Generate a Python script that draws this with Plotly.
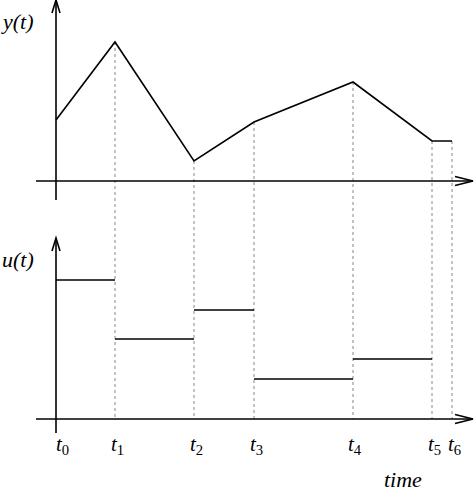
import plotly.graph_objects as go

# ---- data (time units, arbitrary) ----
t_points = [0, 5.9, 13.8, 19.8, 29.7, 37.6, 39.6]
t_labels = ["t0", "t1", "t2", "t3", "t4", "t5", "t6"]
y_values = [6.1, 13.9, 2.0, 5.9, 9.9, 4.0, 4.0]
u_values = [13.9, 8.0, 10.9, 4.0, 6.0]   # constant on [t_k, t_{k+1}]

W, H = 474, 489
FONT = "Liberation Serif, Times New Roman, serif"
GAP = 23.8          # bottom-panel axis level in top-panel units

fig = go.Figure()

# dotted guide lines from curve points down to bottom axis
gx, gy = [], []
for tk, yk in zip(t_points[1:], y_values[1:]):
    gx += [tk, tk, None]
    gy += [yk, -GAP, None]
fig.add_trace(go.Scatter(x=gx, y=gy, mode="lines", yaxis="y",
                         line=dict(color="#888888", width=1, dash="dot"),
                         hoverinfo="skip", showlegend=False))

# y(t) piecewise linear
fig.add_trace(go.Scatter(x=t_points, y=y_values, mode="lines", yaxis="y",
                         line=dict(color="black", width=1.6),
                         showlegend=False))

# u(t) piecewise constant
ux, uy = [], []
for k, uk in enumerate(u_values):
    ux += [t_points[k], t_points[k + 1], None]
    uy += [uk, uk, None]
fig.add_trace(go.Scatter(x=ux, y=uy, mode="lines", yaxis="y2",
                         line=dict(color="black", width=1.6),
                         showlegend=False))

axis_line = dict(color="black", width=1.6)
shapes = []
x_left, x_right = -2.0, 41.7
# top panel axes
shapes.append(dict(type="line", xref="x", yref="y", x0=x_left, x1=x_right, y0=0, y1=0, line=axis_line))
shapes.append(dict(type="line", xref="x", yref="y", x0=0, x1=0, y0=-1.9, y1=18.1, line=axis_line))
# bottom panel axes
shapes.append(dict(type="line", xref="x", yref="y2", x0=x_left, x1=x_right, y0=0, y1=0, line=axis_line))
shapes.append(dict(type="line", xref="x", yref="y2", x0=0, x1=0, y0=-1.4, y1=18.1, line=axis_line))
# arrowheads (chevrons, pixel sized)
for yref, ytip in [("y", 18.1), ("y2", 18.1)]:
    shapes.append(dict(type="path", xref="x", yref=yref, xsizemode="pixel", ysizemode="pixel",
                       xanchor=0, yanchor=ytip, path="M-4,-13 L0,0 L4,-13", line=axis_line))
for yref in ["y", "y2"]:
    shapes.append(dict(type="path", xref="x", yref=yref, xsizemode="pixel", ysizemode="pixel",
                       xanchor=x_right, yanchor=0, path="M-18,4.5 L0,0 L-18,-4.5", line=axis_line))

annotations = [
    dict(x=-3.9, y=16.0, xref="x", yref="y", text="<i>y(t)</i>", showarrow=False,
         font=dict(family=FONT, size=22, color="black")),
    dict(x=-3.8, y=16.0, xref="x", yref="y2", text="<i>u(t)</i>", showarrow=False,
         font=dict(family=FONT, size=22, color="black")),
    dict(x=34.7, y=-6.0, xref="x", yref="y2", text="<i>time</i>", showarrow=False,
         font=dict(family=FONT, size=22, color="black")),
]
for k, (tk, lab) in enumerate(zip(t_points, t_labels)):
    annotations.append(dict(x=tk, y=-2.6, xref="x", yref="y2",
                            text="<i>%s</i><sub>%s</sub>" % (lab[0], lab[1:]),
                            showarrow=False, xshift=6 if k == 0 else 2,
                            font=dict(family=FONT, size=21, color="black")))

fig.update_layout(
    width=W, height=H,
    margin=dict(l=0, r=0, t=0, b=0),
    paper_bgcolor="white", plot_bgcolor="white",
    xaxis=dict(range=[-5.6, 41.8], visible=False, domain=[0, 1]),
    yaxis=dict(range=[-30.8, 18.1], visible=False, domain=[0, 1]),
    yaxis2=dict(range=[-7.0, 41.9], visible=False, overlaying="y", domain=[0, 1]),
    shapes=shapes, annotations=annotations,
    showlegend=False,
)

fig.write_html("out.html", config={"displayModeBar": False},
               post_script="document.body.style.margin='0';document.body.style.overflow='hidden';")
